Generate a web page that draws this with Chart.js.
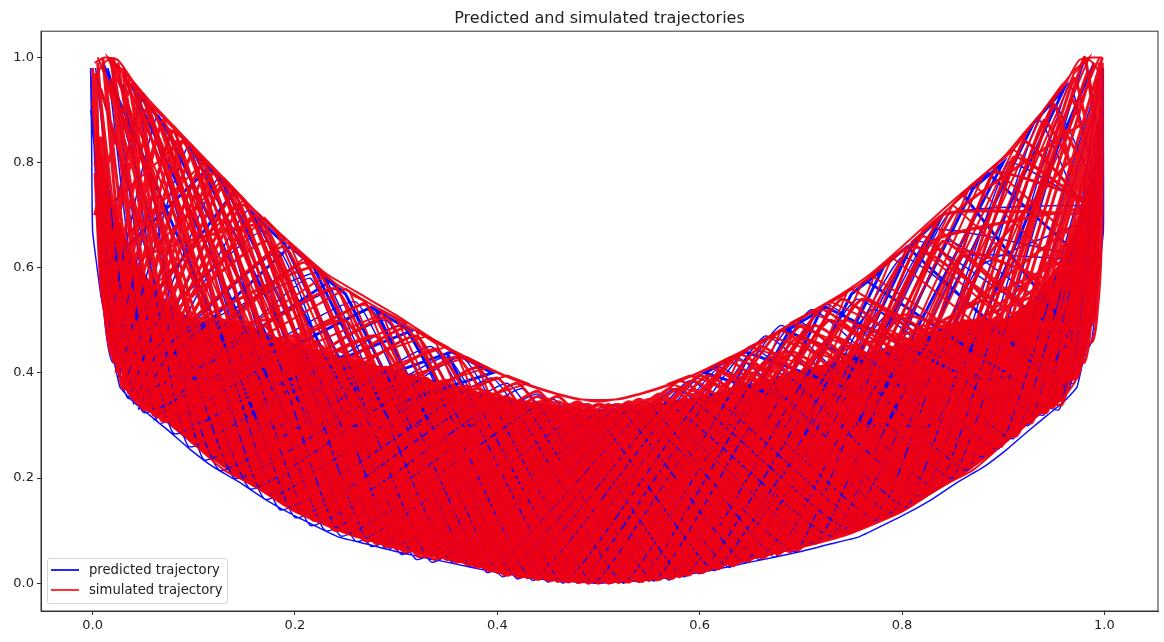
<!DOCTYPE html>
<html>
<head>
<meta charset="utf-8">
<title>Predicted and simulated trajectories</title>
<script src="https://cdn.jsdelivr.net/npm/chart.js@4"></script>
<style>
html, body { margin: 0; padding: 0; background: #fff; }
#wrap { position: relative; width: 1164px; height: 642px; font-family: "DejaVu Sans", sans-serif; }
#legendBox { position: absolute; left: 47px; top: 558px; width: 181px; height: 46px; box-sizing: border-box;
  background: rgba(255,255,255,.8); border: 1px solid #d5d5d5; border-radius: 3px; font-size: 13.2px; color: #222; }
#legendBox div { position: absolute; left: 41px; white-space: nowrap; }
#legendBox i { position: absolute; left: 3px; width: 28px; height: 2px; }
</style>
</head>
<body>
<div id="wrap">
  <canvas id="grafico" width="1164" height="642"></canvas>
  <div id="legendBox">
    <i style="top:10px;background:rgba(0,0,255,.85)"></i><div style="top:3px">predicted trajectory</div>
    <i style="top:30px;background:rgba(255,0,0,.8)"></i><div style="top:23px">simulated trajectory</div>
  </div>
</div>
<script>
const titleText = 'Predicted and simulated trajectories';
const xTicks = [0, 0.2, 0.4, 0.6, 0.8, 1.0];
const yTicks = [0, 0.2, 0.4, 0.6, 0.8, 1.0];

// solid part of the overplotted band
const bandX = [.003,.01,.02,.04,.07,.1,.14,.2,.25,.3,.35,.4,.45,.5,.55,.6,.65,.7,.75,.8,.86,.9,.93,.96,.98,.99,.997];
const bandTop = [.90,.80,.72,.62,.54,.50,.50,.455,.43,.405,.38,.355,.34,.33,.34,.355,.38,.405,.43,.455,.50,.50,.54,.62,.72,.80,.90];
const bandBottom = [.75,.56,.43,.355,.31,.262,.205,.136,.095,.068,.046,.024,.008,.003,.008,.024,.046,.068,.095,.136,.205,.262,.31,.355,.43,.56,.75];

const simulatedRows = [
  [[0,.98],[.02,.43],[.22,.60],[.35,.045],[.52,.34],[.69,.06],[.82,.66],[.96,.38],[.998,.96]],
  [[0,.92],[.03,.38],[.23,.44],[.36,.04],[.53,.345],[.70,.07],[.83,.50],[.97,.40],[.998,.85]],
  [[.005,.99],[.04,.35],[.24,.56],[.37,.035],[.54,.35],[.71,.08],[.84,.65],[.98,.42],[.995,.98]],
  [[.01,1],[.05,.335],[.25,.50],[.38,.03],[.55,.35],[.72,.09],[.85,.49],[.985,.50],[.998,.99]],
  [[.012,.97],[.06,.32],[.26,.425],[.39,.025],[.56,.36],[.73,.095],[.86,.63],[.99,.55],[.998,.93]],
  [[.018,1],[.07,.31],[.27,.53],[.40,.02],[.57,.37],[.74,.105],[.87,.47],[.992,.65],[.998,.78]],
  [[.02,.99],[.08,.30],[.28,.47],[.41,.015],[.58,.385],[.75,.115],[.88,.61],[.99,.85],[.998,.70]],
  [[.025,.99],[.09,.285],[.29,.505],[.42,.012],[.59,.36],[.76,.115],[.89,.78],[.998,.72]],
  [[.03,.97],[.10,.27],[.30,.41],[.43,.01],[.60,.395],[.77,.12],[.90,.50],[.985,.48]],
  [[.035,.96],[.11,.255],[.31,.485],[.44,.007],[.61,.38],[.78,.13],[.91,.81],[.998,.70]],
  [[.04,.95],[.12,.245],[.32,.47],[.45,.005],[.62,.40],[.79,.14],[.92,.84],[.998,.68]],
  [[.002,.80],[.13,.235],[.33,.39],[.46,.003],[.63,.42],[.80,.145],[.93,.55],[.998,.75]],
  [[.01,.98],[.14,.22],[.34,.445],[.47,.002],[.64,.435],[.81,.16],[.94,.88],[.998,.68]],
  [[.02,1],[.15,.21],[.35,.385],[.48,.001],[.65,.40],[.82,.17],[.95,.91],[.99,.55]],
  [[.03,.98],[.16,.195],[.36,.43],[.49,0],[.66,.45],[.83,.18],[.96,.60],[.998,.80]],
  [[.002,.70],[.04,.95],[.17,.18],[.37,.375],[.50,0],[.67,.43],[.84,.19],[.97,.96],[.998,.72]],
  [[.01,.55],[.05,.93],[.18,.165],[.38,.41],[.51,0],[.68,.48],[.85,.21],[.98,1],[.998,.70]],
  [[.015,.5],[.06,.90],[.19,.15],[.39,.365],[.52,.001],[.69,.44],[.86,.22],[.99,.99]],
  [[.02,.42],[.07,.88],[.20,.14],[.40,.39],[.53,.002],[.70,.49],[.87,.235],[.998,1]],
  [[.02,.44],[.08,.86],[.21,.13],[.41,.355],[.54,.003],[.71,.46],[.88,.245],[.998,.96]],
  [[.025,.40],[.09,.84],[.22,.125],[.42,.38],[.55,.005],[.72,.52],[.89,.26],[.995,.90]],
  [[.03,.375],[.10,.82],[.23,.115],[.43,.345],[.56,.007],[.73,.47],[.90,.27],[.998,.85]],
  [[.03,.38],[.11,.80],[.24,.10],[.44,.365],[.57,.009],[.74,.54],[.91,.28],[.998,.92]],
  [[.035,.36],[.12,.78],[.25,.10],[.45,.35],[.58,.012],[.75,.44],[.92,.30],[.998,.80]],
  [[.04,.35],[.13,.76],[.26,.09],[.46,.355],[.59,.016],[.76,.54],[.93,.315],[.995,.98]],
  [[.04,.35],[.14,.74],[.27,.08],[.47,.34],[.60,.02],[.77,.43],[.94,.325],[.998,.88]],
  [[.045,.34],[.15,.72],[.28,.075],[.48,.345],[.61,.025],[.78,.52],[.95,.335],[.998,.95]],
  [[.05,.335],[.16,.70],[.29,.07],[.49,.34],[.62,.03],[.79,.42],[.96,.35],[.995,.99]],
  [[.01,.60],[.17,.68],[.30,.065],[.50,.34],[.63,.035],[.80,.51],[.97,.39],[.998,.90]],
  [[.02,.42],[.18,.50],[.31,.06],[.51,.34],[.64,.04],[.81,.64],[.98,.42],[.998,.97]],
  [[.03,.38],[.19,.64],[.32,.055],[.52,.34],[.65,.045],[.82,.48],[.99,.50],[.998,.99]],
  [[.04,.35],[.20,.47],[.33,.05],[.53,.34],[.66,.05],[.83,.65],[.998,.72]],
  [[.05,.335],[.21,.61],[.34,.05],[.54,.345],[.67,.055],[.84,.70],[.998,.70]],
  [[.06,.32],[.22,.46],[.35,.045],[.55,.35],[.68,.06],[.85,.70],[.998,.90]],
  [[.004,.95],[.015,.5],[.13,.50],[.27,.08],[.44,.355],[.60,.02],[.78,.42],[.90,.27],[.99,.6]],
  [[.008,.85],[.03,.37],[.15,.50],[.29,.07],[.46,.345],[.64,.04],[.82,.49],[.93,.315],[.995,.75]],
  [[.012,.7],[.05,.33],[.12,.47],[.24,.10],[.40,.36],[.56,.007],[.74,.44],[.88,.50],[.97,.39],[.998,.88]],
  [[.015,.62],[.07,.31],[.17,.49],[.31,.06],[.48,.34],[.67,.055],[.86,.50],[.95,.335],[.998,.85]],
  [[.003,.97],[.022,.42],[.227,.45],[.357,.043],[.527,.34],[.697,.063],[.827,.45],[.967,.385],[.998,.93]],
  [[.003,.88],[.037,.36],[.247,.44],[.377,.033],[.547,.345],[.717,.078],[.847,.48],[.987,.49],[.998,.96]],
  [[.006,.95],[.053,.33],[.263,.43],[.393,.023],[.563,.35],[.733,.093],[.863,.49],[.992,.6],[.998,.88]],
  [[.018,.96],[.068,.31],[.278,.41],[.408,.015],[.578,.37],[.748,.108],[.878,.50],[.997,.68]],
  [[.023,.95],[.083,.295],[.293,.41],[.423,.011],[.593,.385],[.763,.118],[.893,.50],[.997,.72]],
  [[.033,.93],[.098,.275],[.308,.40],[.438,.008],[.608,.395],[.778,.123],[.908,.49],[.997,.70]],
  [[.048,.91],[.113,.25],[.323,.39],[.453,.005],[.623,.40],[.793,.138],[.923,.48],[.997,.68]],
  [[.008,.94],[.128,.232],[.338,.38],[.468,.003],[.638,.40],[.808,.148],[.938,.47],[.992,.60]],
  [[.018,.96],[.143,.215],[.353,.38],[.483,.002],[.653,.41],[.823,.168],[.953,.88],[.997,.72]],
  [[.028,.95],[.158,.195],[.368,.37],[.498,.001],[.668,.42],[.838,.185],[.968,.92],[.997,.68]],
  [[.013,.58],[.053,.90],[.173,.175],[.383,.37],[.513,.001],[.683,.44],[.853,.205],[.983,.97],[.997,.78]],
  [[.018,.46],[.068,.87],[.188,.155],[.398,.36],[.528,.002],[.698,.47],[.868,.22],[.997,.96]],
  [[.023,.40],[.083,.84],[.203,.135],[.413,.35],[.543,.003],[.713,.49],[.883,.245],[.997,.93]],
  [[.028,.38],[.098,.81],[.218,.12],[.428,.345],[.558,.006],[.728,.50],[.898,.26],[.997,.88]],
  [[.033,.37],[.113,.78],[.233,.11],[.443,.345],[.573,.009],[.743,.50],[.913,.28],[.997,.83]],
  [[.038,.355],[.128,.75],[.248,.10],[.458,.34],[.588,.015],[.758,.49],[.928,.305],[.997,.88]],
  [[.043,.345],[.143,.72],[.263,.09],[.473,.34],[.603,.02],[.773,.48],[.943,.325],[.995,.94]],
  [[.048,.335],[.158,.69],[.278,.08],[.488,.34],[.618,.027],[.788,.47],[.958,.34],[.997,.91]],
  [[.023,.42],[.173,.65],[.293,.07],[.503,.34],[.633,.033],[.803,.46],[.973,.39],[.997,.94]],
  [[.033,.37],[.188,.46],[.308,.06],[.518,.34],[.648,.042],[.818,.47],[.988,.46],[.997,.96]],
  [[.048,.335],[.203,.46],[.323,.05],[.533,.34],[.663,.048],[.833,.49],[.995,.65],[.997,.78]],
  [[.063,.315],[.218,.45],[.338,.045],[.548,.345],[.678,.055],[.848,.50],[.997,.72]]
];

const simulatedEdges = [
  [[.002,.99],[.012,1],[.025,.995],[.04,.955],[.06,.91],[.08,.87],[.1,.83],[.13,.77],[.16,.71],[.2,.64],[.23,.59],[.26,.555],[.3,.51],[.34,.46],[.38,.42],[.42,.385],[.46,.36],[.5,.345],[.54,.36],[.58,.385],[.62,.42],[.66,.46],[.7,.505],[.74,.55],[.77,.59],[.8,.64],[.84,.71],[.87,.76],[.9,.81],[.92,.855],[.94,.90],[.96,.945],[.975,.995],[.988,1],[.998,1]],
  [[.004,.97],[.015,.995],[.03,.975],[.05,.925],[.07,.885],[.09,.845],[.12,.785],[.15,.725],[.18,.67],[.21,.615],[.24,.57],[.28,.525],[.32,.48],[.36,.435],[.40,.40],[.44,.37],[.48,.35],[.52,.35],[.56,.37],[.60,.40],[.64,.435],[.68,.48],[.72,.525],[.76,.57],[.79,.615],[.82,.665],[.85,.72],[.88,.775],[.91,.825],[.93,.875],[.95,.925],[.97,.975],[.985,.995],[.996,.97]],
  [[.998,.80],[.99,.56],[.98,.44],[.97,.38],[.955,.345],[.93,.315],[.90,.265],[.87,.215],[.84,.185],[.80,.136],[.75,.095],[.70,.068],[.65,.046],[.60,.024],[.55,.008],[.5,.002],[.45,.008],[.4,.024],[.35,.046],[.3,.068],[.25,.095],[.2,.136],[.16,.185],[.13,.215],[.1,.265],[.07,.315],[.045,.34],[.03,.38],[.018,.45],[.008,.56],[.002,.78]]
];

const simulatedCombs = [
  [[.005,1],[.16,.30],[.17,.30],[.015,1],[.03,.97],[.18,.30],[.19,.30],[.045,.94],[.06,.90],[.20,.30],[.21,.30],[.075,.865],[.09,.845],[.22,.30],[.225,.30],[.105,.815],[.12,.785],[.23,.30],[.24,.30],[.135,.755],[.15,.73],[.25,.30],[.255,.30],[.165,.70],[.18,.675],[.265,.30],[.27,.30],[.195,.645],[.21,.62],[.28,.30],[.29,.30],[.225,.595],[.24,.57],[.30,.30],[.31,.30],[.255,.55],[.27,.535],[.32,.30],[.33,.30],[.285,.52],[.30,.505],[.35,.30],[.36,.30],[.32,.48],[.34,.455],[.375,.30],[.39,.30],[.36,.435],[.38,.415],[.405,.30]],
  [[.005,.70],[.09,.845],[.11,.80],[.01,.62],[.015,.55],[.13,.77],[.15,.73],[.025,.50],[.035,.45],[.17,.695],[.19,.655],[.05,.42],[.065,.40],[.21,.62],[.23,.585],[.085,.40],[.105,.40],[.25,.56],[.27,.535],[.125,.40],[.15,.40],[.29,.515],[.31,.495],[.175,.39],[.20,.38],[.33,.47],[.35,.45],[.23,.37],[.26,.36],[.37,.43],[.39,.41],[.29,.35],[.32,.34],[.41,.395],[.43,.38],[.35,.33]],
  [[.995,1],[.84,.30],[.83,.30],[.985,1],[.97,.97],[.82,.30],[.81,.30],[.955,.94],[.94,.90],[.80,.30],[.79,.30],[.925,.865],[.91,.825],[.78,.30],[.775,.30],[.895,.80],[.88,.775],[.77,.30],[.76,.30],[.865,.745],[.85,.72],[.75,.30],[.745,.30],[.835,.695],[.82,.67],[.735,.30],[.73,.30],[.805,.64],[.79,.62],[.72,.30],[.71,.30],[.775,.595],[.76,.57],[.70,.30],[.69,.30],[.745,.55],[.73,.535],[.68,.30],[.67,.30],[.715,.52],[.70,.505],[.65,.30],[.64,.30],[.68,.48],[.66,.455],[.625,.30],[.61,.30],[.64,.435],[.62,.415],[.595,.30]],
  [[.995,.70],[.91,.825],[.89,.79],[.99,.62],[.985,.55],[.87,.76],[.85,.72],[.975,.50],[.965,.45],[.83,.685],[.81,.65],[.95,.42],[.935,.40],[.79,.62],[.77,.585],[.915,.40],[.895,.40],[.75,.56],[.73,.535],[.875,.40],[.85,.40],[.71,.515],[.69,.495],[.825,.39],[.80,.38],[.67,.47],[.65,.45],[.77,.37],[.74,.36],[.63,.43],[.61,.41],[.71,.35],[.68,.34],[.59,.395],[.57,.38],[.65,.33]]
];

const predictedRows = [
  [[-.002,.98],[-.001,.85],[0,.67],[.008,.55],[.015,.48],[.027,.373],[.04,.345],[.056,.32],[.075,.29],[.096,.255],[.12,.22],[.145,.192],[.17,.16],[.20,.128],[.244,.087],[.27,.075],[.30,.06],[.35,.04],[.40,.02],[.45,.006],[.50,0],[.55,.006],[.60,.02],[.65,.04],[.70,.06],[.73,.075],[.756,.087],[.80,.128],[.83,.16],[.855,.192],[.88,.22],[.904,.255],[.925,.29],[.944,.32],[.96,.345],[.973,.373],[.985,.48],[.992,.55],[.999,.67],[.999,.85],[.999,.98]],
  [[-.002,.98],[.02,.42],[.225,.59],[.355,.04],[.525,.34],[.695,.06],[.825,.65],[.965,.37],[.998,.94]],
  [[-.002,.90],[.035,.352],[.245,.56],[.375,.03],[.545,.345],[.715,.075],[.845,.65],[.985,.48],[.998,.98]],
  [[.003,.98],[.05,.325],[.26,.535],[.39,.02],[.56,.35],[.73,.09],[.86,.62],[.995,.62],[.998,.90]],
  [[.015,.98],[.065,.305],[.275,.52],[.405,.012],[.575,.37],[.745,.105],[.875,.60],[.998,.70]],
  [[.02,.97],[.08,.285],[.29,.50],[.42,.008],[.59,.385],[.76,.115],[.89,.78],[.998,.72]],
  [[.03,.95],[.095,.26],[.305,.49],[.435,.005],[.605,.40],[.775,.12],[.905,.80],[.998,.70]],
  [[.045,.93],[.11,.235],[.32,.47],[.45,.002],[.62,.41],[.79,.135],[.92,.84],[.998,.68]],
  [[.005,.96],[.125,.215],[.335,.45],[.465,0],[.635,.43],[.805,.145],[.935,.88],[.995,.62]],
  [[.015,.98],[.14,.20],[.35,.43],[.48,0],[.65,.45],[.82,.165],[.95,.91],[.998,.72]],
  [[.025,.97],[.155,.18],[.365,.43],[.495,0],[.665,.47],[.835,.18],[.965,.95],[.998,.70]],
  [[.01,.60],[.05,.92],[.17,.16],[.38,.41],[.51,0],[.68,.49],[.85,.20],[.98,.99],[.998,.80]],
  [[.015,.48],[.065,.89],[.185,.14],[.395,.39],[.525,0],[.695,.50],[.865,.215],[.998,.98]],
  [[.02,.42],[.08,.86],[.20,.125],[.41,.38],[.54,.002],[.71,.52],[.88,.24],[.998,.95]],
  [[.025,.39],[.095,.83],[.215,.11],[.425,.37],[.555,.004],[.725,.53],[.895,.255],[.998,.90]],
  [[.03,.37],[.11,.80],[.23,.10],[.44,.36],[.57,.006],[.74,.54],[.91,.275],[.998,.85]],
  [[.035,.35],[.125,.77],[.245,.09],[.455,.35],[.585,.012],[.755,.54],[.925,.30],[.998,.90]],
  [[.04,.34],[.14,.74],[.26,.08],[.47,.34],[.60,.018],[.77,.52],[.94,.32],[.995,.96]],
  [[.045,.33],[.155,.71],[.275,.07],[.485,.34],[.615,.024],[.785,.51],[.955,.33],[.998,.93]],
  [[.02,.42],[.17,.67],[.29,.065],[.50,.34],[.63,.03],[.80,.62],[.97,.38],[.998,.96]],
  [[.03,.37],[.185,.63],[.305,.055],[.515,.34],[.645,.04],[.815,.65],[.985,.45],[.998,.98]],
  [[.045,.33],[.20,.60],[.32,.045],[.53,.34],[.66,.045],[.83,.67],[.995,.62],[.998,.80]],
  [[.06,.31],[.215,.58],[.335,.04],[.545,.345],[.675,.05],[.845,.70],[.998,.72]]
];

const predictedCombs = [
  [[.01,.99],[.165,.30],[.195,.30],[.04,.94],[.07,.875],[.215,.30],[.235,.30],[.10,.82],[.13,.76],[.245,.30],[.265,.30],[.16,.70],[.19,.645],[.275,.30],[.295,.30],[.22,.595],[.25,.55],[.315,.30],[.335,.30],[.28,.52],[.31,.485],[.365,.30],[.385,.30],[.35,.44]],
  [[.012,.60],[.115,.79],[.14,.745],[.03,.47],[.06,.40],[.195,.64],[.235,.575],[.09,.39],[.135,.39],[.275,.525],[.315,.48],[.185,.38],[.245,.365],[.355,.44],[.395,.40],[.305,.345]],
  [[.99,.99],[.835,.30],[.805,.30],[.96,.94],[.93,.875],[.785,.30],[.765,.30],[.90,.80],[.87,.75],[.755,.30],[.735,.30],[.84,.70],[.81,.645],[.725,.30],[.705,.30],[.78,.595],[.75,.55],[.685,.30],[.665,.30],[.72,.52],[.69,.485],[.635,.30],[.615,.30],[.65,.44]],
  [[.988,.60],[.885,.78],[.86,.74],[.97,.47],[.94,.40],[.805,.64],[.765,.575],[.91,.39],[.865,.39],[.725,.525],[.685,.48],[.815,.38],[.755,.365],[.645,.44],[.605,.40],[.695,.345]]
];

// a null point between two lists lifts the pen
const toLine = rows => rows.flatMap(row => [...row, [null, null]]).map(p => ({ x: p[0], y: p[1] }));
const toPoints = (xs, ys) => xs.map((x, i) => ({ x: x, y: ys[i] }));

const frame = {
    id: 'frame',
    afterDraw(chart) {
        const { ctx, chartArea: a } = chart;
        ctx.save();
        ctx.strokeStyle = '#333';
        ctx.lineWidth = 1;
        ctx.strokeRect(a.left, a.top, a.right - a.left, a.bottom - a.top);
        ctx.restore();
    }
};

const axis = (ticks, min, max, extra) => Object.assign({
    type: 'linear',
    min: min,
    max: max,
    afterBuildTicks: s => { s.ticks = ticks.map(v => ({ value: v })); },
    grid: { drawOnChartArea: false, color: '#333', tickLength: 4 },
    border: { color: '#333' },
    ticks: { autoSkip: false, maxRotation: 0, padding: 3, color: '#222', font: { size: 13, family: 'DejaVu Sans' }, callback: v => v.toFixed(1) }
}, extra);

const BLUE = 'rgba(0,0,255,.95)';
const RED = 'rgba(238,0,20,.95)';
const line = (label, data, color, width, tension, order) => ({ label, data, borderColor: color, borderWidth: width, tension, pointRadius: 0, fill: false, spanGaps: false, order });

new Chart(document.getElementById('grafico'), {
    type: 'line',
    data: {
        datasets: [
            line('predicted trajectory', toLine(predictedRows), BLUE, 1.5, 0.1, 4),
            line('predicted trajectory', toLine(predictedCombs), BLUE, 3, 0, 3),
            line('simulated trajectory', toLine(simulatedRows), RED, 3, 0.1, 2),
            line('simulated trajectory', toLine(simulatedCombs), RED, 2, 0, 1),
            line('simulated trajectory', toLine(simulatedEdges), RED, 2, 0.2, 0),
            { label: 'band top', data: toPoints(bandX, bandTop), borderWidth: 0, pointRadius: 0, fill: '+1', backgroundColor: 'rgb(232,0,26)', order: 6 },
            { label: 'band bottom', data: toPoints(bandX, bandBottom), borderWidth: 0, pointRadius: 0, fill: false, order: 7 }
        ]
    },
    options: {
        responsive: false,
        animation: false,
        layout: { padding: { right: 6 } },
        scales: {
            x: axis(xTicks, -0.051, 1.053, { afterFit: s => { s.height = 31; } }),
            y: axis(yTicks, -0.053, 1.05, { afterFit: s => { s.width = 41; } })
        },
        plugins: {
            legend: { display: false },
            tooltip: { enabled: false },
            title: { display: true, text: titleText, fullSize: false, color: '#222', font: { size: 16, weight: 'normal', family: 'DejaVu Sans' }, padding: { top: 9, bottom: 3 } }
        }
    },
    plugins: [frame]
});
</script>
</body>
</html>
